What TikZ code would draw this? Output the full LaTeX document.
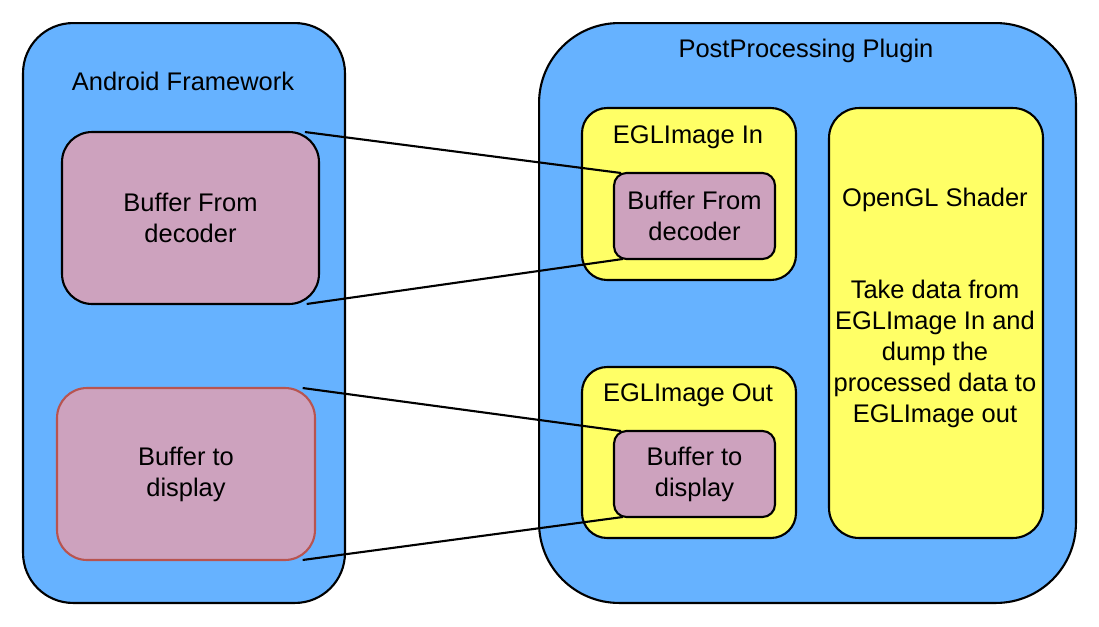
\documentclass[tikz,border=0pt]{standalone}
\usepackage{fontspec}
\setmainfont{Liberation Sans}
\definecolor{panelblue}{HTML}{66B2FF}
\definecolor{boxyellow}{HTML}{FFFF66}
\definecolor{bufmauve}{HTML}{CDA2BE}
\definecolor{bufred}{HTML}{B85450}
\begin{document}
\begin{tikzpicture}[
    x=0.02cm, y=-0.02cm,
    font=\fontsize{14.5}{17.6}\selectfont,
    box/.style={draw, line width=1.2pt, inner sep=0pt, outer sep=0pt, align=center},
    panel/.style={box, fill=panelblue},
    frame/.style={box, fill=boxyellow, rounded corners=0.5cm},
    buffer/.style={box, fill=bufmauve},
    link/.style={line width=1.2pt}
  ]
  \useasboundingbox (0,0) rectangle (1099,626);

  % panels
  \node[panel, rounded corners=1cm, minimum width=6.44cm, minimum height=11.6cm] (android) at (184,313) {};
  \node[panel, rounded corners=1.6cm, minimum width=10.74cm, minimum height=11.6cm] (plugin) at (807.5,313) {};
  \node at (183,81) {Android Framework};
  \node at (806,51) {PostProcessing Plugin};

  % framework buffers
  \node[buffer, rounded corners=0.6cm, minimum width=5.14cm, minimum height=3.44cm] (bufdec) at (190.5,218) {Buffer From\\decoder};
  \node[buffer, draw=bufred, rounded corners=0.6cm, minimum width=5.16cm, minimum height=3.44cm] (bufdisp) at (186,474) {Buffer to\\display};

  % EGL images
  \node[frame, minimum width=4.28cm, minimum height=3.44cm] (eglin) at (689,194) {};
  \node at (688,137) {EGLImage In};
  \node[buffer, rounded corners=0.25cm, minimum width=3.22cm, minimum height=1.72cm] (inbuf) at (694.5,216) {Buffer From\\decoder};
  \node[frame, minimum width=4.28cm, minimum height=3.42cm] (eglout) at (689,452.5) {};
  \node at (688,395) {EGLImage Out};
  \node[buffer, rounded corners=0.25cm, minimum width=3.22cm, minimum height=1.72cm] (outbuf) at (694.5,474) {Buffer to\\display};

  % shader
  \node[frame, rounded corners=0.6cm, minimum width=4.28cm, minimum height=8.6cm] (shader) at (936,323) {};
  \node at (935,200) {OpenGL Shader};
  \node[align=center] at (935,354) {Take data from\\EGLImage In and\\dump the\\processed data to\\EGLImage out};

  % connectors
  \draw[link] ([xshift=-8pt]bufdec.north east) -- ([xshift=4pt]inbuf.north west);
  \draw[link] ([xshift=-7pt]bufdec.south east) -- ([xshift=5pt]inbuf.south west);
  \draw[link] ([xshift=-7pt]bufdisp.north east) -- ([xshift=4pt]outbuf.north west);
  \draw[link] ([xshift=-7pt]bufdisp.south east) -- ([xshift=5pt]outbuf.south west);
\end{tikzpicture}
\end{document}
